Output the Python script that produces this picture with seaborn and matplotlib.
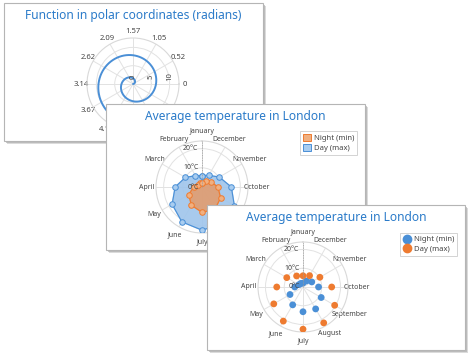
import numpy as np
import pandas as pd
import matplotlib

matplotlib.use('Agg')
import matplotlib.pyplot as plt
from matplotlib.patches import Rectangle, Patch
from matplotlib.lines import Line2D
import seaborn as sns

# data
months = ["January", "February", "March", "April", "May", "June",
          "July", "August", "September", "October", "November", "December"]
night_min = [2.1, 2.2, 2.5, 4.4, 8.0, 11.0, 13.2, 13.5, 11.2, 8.3, 5.4, 3.7]
day_max = [6.0, 6.8, 10.0, 14.0, 18.0, 21.0, 22.5, 22.1, 19.5, 15.3, 10.4, 7.0]
temp_ticks = [0, 10, 20]
rad_ticks = [0, 5, 10]
angle_labels = ["0", "0.52", "1.05", "1.57", "2.09", "2.62",
                "3.14", "3.67", "4.19", "4.71", "5.24", "5.76"]
# function r = theta
spiral_theta = np.linspace(0, 3.7 * np.pi, 300)
spiral_r = spiral_theta

W, H = 474, 360
BLUE = '#4a8fd6'
ORANGE = '#ee7b30'
TITLE = '#2b7bc9'
TXT = '#454545'
GRID = '#e2e2e2'

sns.set_style("white")
plt.rcParams['font.family'] = ['Noto Sans', 'DejaVu Sans']

fig = plt.figure(figsize=(W / 100, H / 100), dpi=100)
fig.patch.set_facecolor('white')


def frac(x0, y0, x1, y1):
    return [x0 / W, 1 - y1 / H, (x1 - x0) / W, (y1 - y0) / H]


def panel(x0, y0, x1, y1, z, title):
    # shadow + white card + title
    for off, col, a in [(3, '#b8b8b8', 0.5), (2, '#a8a8a8', 0.6)]:
        fig.add_artist(Rectangle(((x0 + off) / W, 1 - (y1 + off) / H), (x1 - x0) / W, (y1 - y0) / H,
                                 transform=fig.transFigure, facecolor=col, edgecolor='none',
                                 alpha=a, zorder=z))
    fig.add_artist(Rectangle((x0 / W, 1 - y1 / H), (x1 - x0) / W, (y1 - y0) / H,
                             transform=fig.transFigure, facecolor='white', edgecolor='#b5b5b5',
                             linewidth=0.8, zorder=z + 1))
    fig.text((x0 + x1) / 2 / W, 1 - (y0 + 13) / H, title, ha='center', va='center',
             fontsize=8.6, color=TITLE, zorder=z + 3)


def polar_ax(cx, cy, R, z):
    ax = fig.add_axes(frac(cx - R, cy - R, cx + R, cy + R), projection='polar')
    ax.set_zorder(z + 2)
    ax.patch.set_alpha(0)
    ax.grid(True, color=GRID, linewidth=0.7)
    ax.spines['polar'].set_color('#d9d9d9')
    ax.spines['polar'].set_linewidth(0.8)
    ax.tick_params(axis='x', labelsize=5, colors=TXT, pad=-0.5, length=0)
    return ax


def month_axes(ax):
    ax.set_theta_zero_location('N')
    ax.set_xticks(np.deg2rad(np.arange(12) * 30))
    ax.set_xticklabels(months)
    ax.set_ylim(0, 24)
    ax.set_yticks(temp_ticks[1:])
    ax.set_yticklabels([])
    ax.axvline(0, color='#9a9a9a', linewidth=0.6, linestyle=(0, (1, 1)), zorder=6)
    for v in temp_ticks:
        ax.annotate(f"{v}°C", xy=(0, v), xytext=(-2.5, 0), textcoords='offset points',
                    ha='right', va='center', fontsize=5, color=TXT, zorder=10)
    ax.set_xlabel('')
    ax.set_ylabel('')


def style_legend(leg):
    leg.get_frame().set_edgecolor('#c8c8c8')
    leg.get_frame().set_linewidth(0.7)
    for t in leg.get_texts():
        t.set_color(TXT)


# panel 1: spiral
panel(4, 3, 263, 141, 0, "Function in polar coordinates (radians)")
ax1 = polar_ax(133, 84, 46, 0)
sns.lineplot(x=spiral_theta, y=spiral_r, ax=ax1, sort=False, estimator=None,
             color=BLUE, linewidth=1.4)
ax1.set_ylim(0, 4 * np.pi)
ax1.set_yticks(rad_ticks[1:])
ax1.set_yticklabels([])
ax1.set_xticks(np.deg2rad(np.arange(12) * 30))
ax1.set_xticklabels(angle_labels)
ax1.tick_params(axis='x', labelsize=5.5, pad=-2.5, length=0)
for v in rad_ticks:
    ax1.annotate(str(v), xy=(0, v), xytext=(0, 5), textcoords='offset points',
                 ha='center', va='center', rotation=90, fontsize=5.5, color=TXT)

# panel 2: areas
panel(106, 104, 365, 250, 10, "Average temperature in London")
ax2 = polar_ax(202, 187, 46, 10)
th = np.deg2rad(np.arange(13) * 30)
day_closed = day_max + day_max[:1]
night_closed = night_min + night_min[:1]
ax2.fill(th, day_closed, color='#9fc5ec', alpha=0.9, zorder=2)
sns.lineplot(x=th, y=day_closed, ax=ax2, sort=False, estimator=None, color=BLUE,
             linewidth=0.8, marker='o', markersize=4, markerfacecolor='#a9cdf0',
             markeredgecolor=BLUE, markeredgewidth=0.7, zorder=3)
ax2.fill(th, night_closed, color='#e59a68', alpha=0.85, zorder=4)
sns.lineplot(x=th, y=night_closed, ax=ax2, sort=False, estimator=None, color=ORANGE,
             linewidth=0.8, marker='o', markersize=4, markerfacecolor='#f0b081',
             markeredgecolor=ORANGE, markeredgewidth=0.7, zorder=5)
month_axes(ax2)
h2 = [Patch(facecolor='#f0b081', edgecolor=ORANGE, linewidth=0.7),
      Patch(facecolor='#a9cdf0', edgecolor=BLUE, linewidth=0.7)]
leg2 = ax2.legend(h2, ["Night (min)", "Day (max)"], loc='upper left',
                  bbox_to_anchor=(300 / W, 1 - 131 / H), bbox_transform=fig.transFigure,
                  borderaxespad=0, fontsize=5.5, frameon=True, fancybox=False, borderpad=0.4,
                  handlelength=1.0, handleheight=1.0, handletextpad=0.4, labelspacing=0.3)
style_legend(leg2)

# panel 3: points
panel(207, 205, 465, 350, 20, "Average temperature in London")
ax3 = polar_ax(303, 287, 45, 20)
df = pd.DataFrame({
    'theta': np.concatenate([np.deg2rad(np.arange(12) * 30)] * 2),
    'temp': night_min + day_max,
    'series': ["Night (min)"] * 12 + ["Day (max)"] * 12,
})
sns.scatterplot(data=df, x='theta', y='temp', hue='series', ax=ax3,
                palette={"Night (min)": BLUE, "Day (max)": ORANGE},
                s=24, edgecolor='none', legend=False, zorder=3)
month_axes(ax3)
h3 = [Line2D([], [], marker='o', linestyle='none', markersize=6, color=BLUE),
      Line2D([], [], marker='o', linestyle='none', markersize=6, color=ORANGE)]
leg3 = ax3.legend(h3, ["Night (min)", "Day (max)"], loc='upper left',
                  bbox_to_anchor=(400 / W, 1 - 233 / H), bbox_transform=fig.transFigure,
                  borderaxespad=0, fontsize=5.5, frameon=True, fancybox=False, borderpad=0.4,
                  handlelength=1.0, handletextpad=0.4, labelspacing=0.3)
style_legend(leg3)

fig.savefig('out.png', dpi=100, facecolor='white')
